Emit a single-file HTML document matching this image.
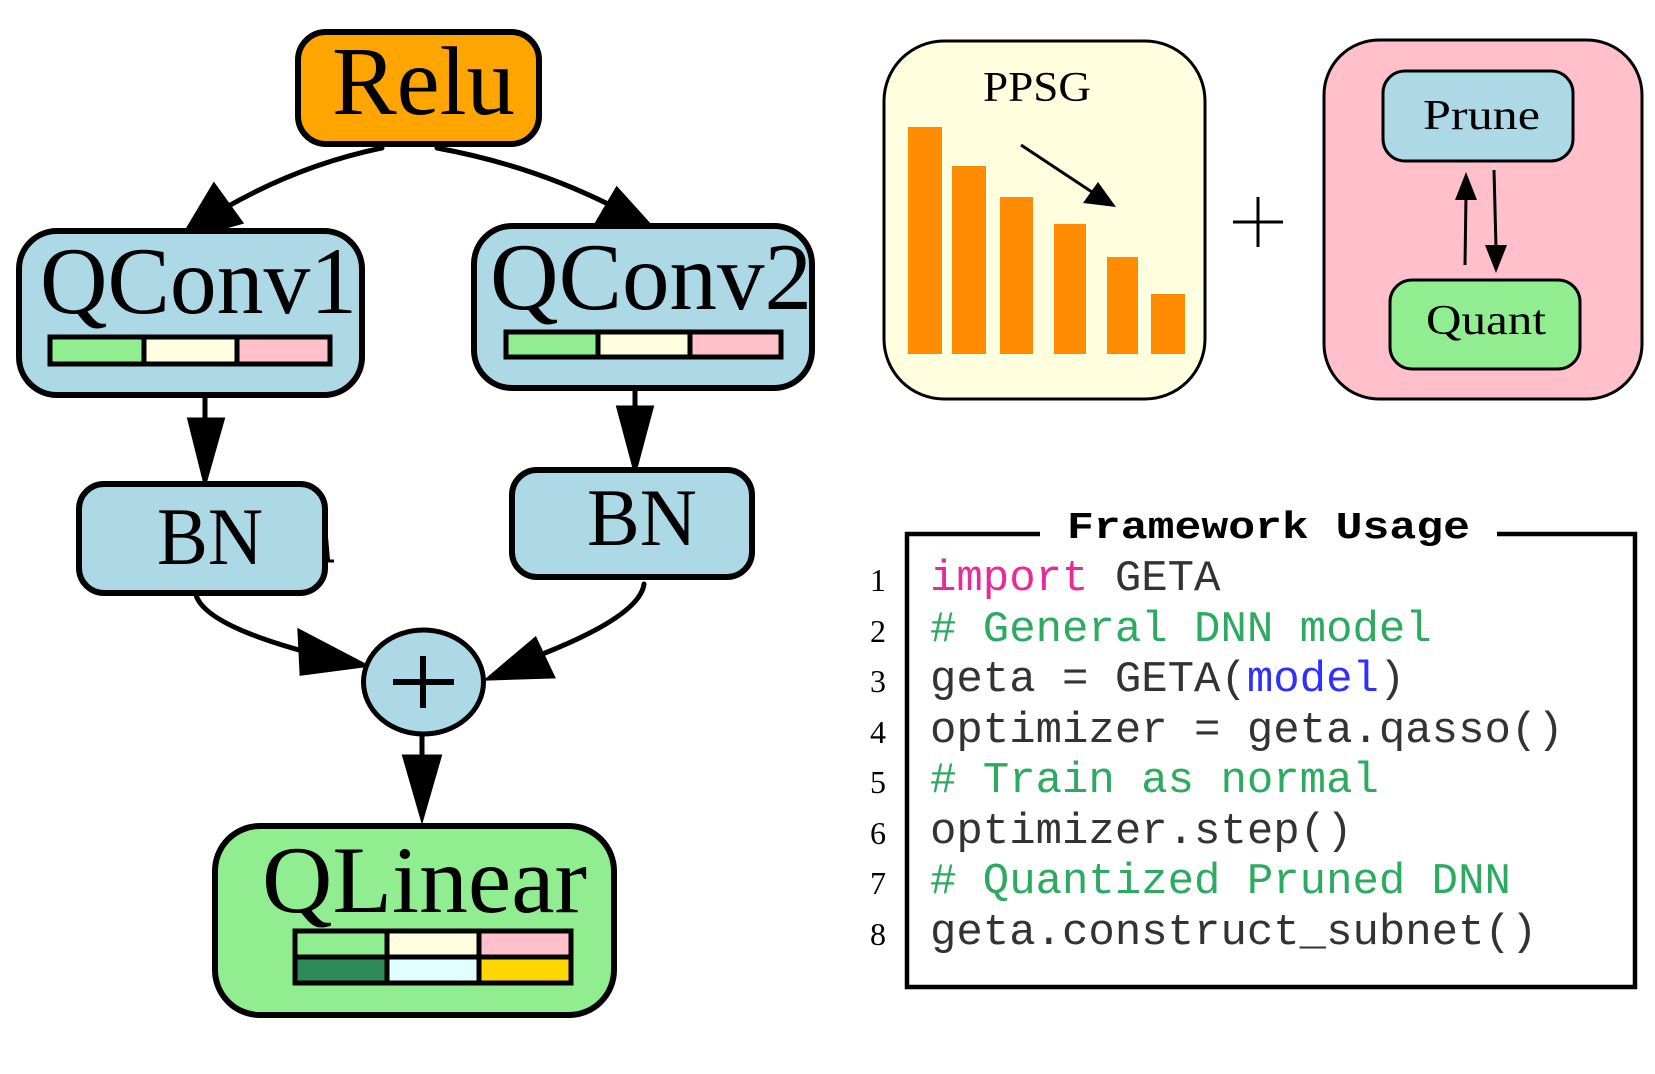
<!DOCTYPE html>
<html><head><meta charset="utf-8"><style>
html,body{margin:0;padding:0;background:#fff}
svg{display:block}
.s{font-family:"Liberation Serif",serif}
.m{font-family:"Liberation Mono",monospace}
</style></head><body>
<svg width="1655" height="1074" viewBox="0 0 1655 1074" xmlns="http://www.w3.org/2000/svg">
<g stroke="#000" stroke-width="5" fill="none" stroke-linecap="round">
<path d="M382,148 Q300,165 225,208"/>
<polygon points="183,238 214,186 240,222" fill="#000"/>
<path d="M437,148 Q530,165 610,205"/>
<polygon points="655,232 617,190 597,224" fill="#000"/>
<line x1="205" y1="397" x2="205" y2="425"/>
<polygon points="205,480 190,420 222,420" fill="#000"/>
<line x1="635" y1="390" x2="635" y2="412"/>
<polygon points="635,468 619,408 651,408" fill="#000"/>
<path d="M196,595 Q205,625 310,653"/>
<polygon points="363,665 300,632 302,673" fill="#000"/>
<path d="M644,584 Q640,615 545,653"/>
<polygon points="490,678 535,640 552,676" fill="#000"/>
<line x1="422" y1="722" x2="422" y2="760"/>
<polygon points="422,816 405,757 439,757" fill="#000"/>
</g>

<rect x="298" y="32" width="241" height="112" rx="28" fill="#FFA500" stroke="#000" stroke-width="6"/>
<text x="332" y="114" class="s" font-size="98" textLength="183" lengthAdjust="spacingAndGlyphs">Relu</text>

<rect x="19" y="231" width="343" height="164" rx="38" fill="#ADD8E6" stroke="#000" stroke-width="6"/>
<text x="40" y="313" class="s" font-size="95" textLength="317" lengthAdjust="spacingAndGlyphs">QConv1</text>
<g stroke="#000" stroke-width="5">
<rect x="50" y="337" width="94" height="27" fill="#90EE90"/>
<rect x="144" y="337" width="93" height="27" fill="#FFFFE0"/>
<rect x="237" y="337" width="93" height="27" fill="#FFC0CB"/>
</g>

<rect x="474" y="226" width="338" height="162" rx="38" fill="#ADD8E6" stroke="#000" stroke-width="6"/>
<text x="490" y="309" class="s" font-size="95" textLength="322" lengthAdjust="spacingAndGlyphs">QConv2</text>
<g stroke="#000" stroke-width="5">
<rect x="506" y="332" width="92" height="25" fill="#90EE90"/>
<rect x="598" y="332" width="92" height="25" fill="#FFFFE0"/>
<rect x="690" y="332" width="91" height="25" fill="#FFC0CB"/>
</g>

<line x1="325" y1="525" x2="328" y2="560" stroke="#000" stroke-width="4"/>
<line x1="325" y1="561" x2="334" y2="561" stroke="#000" stroke-width="3"/>
<rect x="79" y="484" width="246" height="109" rx="25" fill="#ADD8E6" stroke="#000" stroke-width="6"/>
<text x="157" y="564" class="s" font-size="82" textLength="106" lengthAdjust="spacingAndGlyphs">BN</text>

<rect x="512" y="470" width="240" height="107" rx="25" fill="#ADD8E6" stroke="#000" stroke-width="6"/>
<text x="587" y="545" class="s" font-size="82" textLength="110" lengthAdjust="spacingAndGlyphs">BN</text>

<ellipse cx="423.5" cy="682" rx="60" ry="52" fill="#ADD8E6" stroke="#000" stroke-width="5"/>
<g stroke="#000" stroke-width="6"><line x1="393" y1="682" x2="454" y2="682"/><line x1="423" y1="656" x2="423" y2="708"/></g>

<rect x="215" y="826" width="399" height="189" rx="45" fill="#90EE90" stroke="#000" stroke-width="6"/>
<text x="262" y="912" class="s" font-size="95" textLength="325" lengthAdjust="spacingAndGlyphs">QLinear</text>
<g stroke="#000" stroke-width="5">
<rect x="295" y="931" width="92" height="26" fill="#90EE90"/>
<rect x="387" y="931" width="92" height="26" fill="#FFFFE0"/>
<rect x="479" y="931" width="92" height="26" fill="#FFC0CB"/>
<rect x="295" y="957" width="92" height="26" fill="#2E8B57"/>
<rect x="387" y="957" width="92" height="26" fill="#E0FFFF"/>
<rect x="479" y="957" width="92" height="26" fill="#FFD700"/>
</g>

<rect x="884" y="41" width="321" height="358" rx="60" fill="#FFFFE0" stroke="#000" stroke-width="3"/>
<text x="983" y="101" class="s" font-size="42" textLength="108" lengthAdjust="spacingAndGlyphs">PPSG</text>
<g fill="#FF8C00">
<rect x="908" y="127" width="34" height="227"/>
<rect x="952" y="166" width="34" height="188"/>
<rect x="1000" y="197" width="33" height="157"/>
<rect x="1054" y="224" width="32" height="130"/>
<rect x="1107" y="257" width="31" height="97"/>
<rect x="1151" y="294" width="34" height="60"/>
</g>
<line x1="1021" y1="145" x2="1095" y2="194" stroke="#000" stroke-width="3"/>
<polygon points="1116,207 1083,203 1098,182" fill="#000"/>

<g stroke="#000" stroke-width="3"><line x1="1233" y1="222" x2="1283" y2="222"/><line x1="1258" y1="197" x2="1258" y2="247"/></g>

<rect x="1324" y="40" width="318" height="359" rx="55" fill="#FFC0CB" stroke="#000" stroke-width="3"/>
<rect x="1383" y="71" width="190" height="90" rx="22" fill="#ADD8E6" stroke="#000" stroke-width="3"/>
<text x="1423" y="129" class="s" font-size="42" textLength="117" lengthAdjust="spacingAndGlyphs">Prune</text>
<rect x="1390" y="280" width="190" height="89" rx="22" fill="#90EE90" stroke="#000" stroke-width="3"/>
<text x="1426" y="334" class="s" font-size="42" textLength="120" lengthAdjust="spacingAndGlyphs">Quant</text>
<g stroke="#000" stroke-width="3">
<line x1="1465" y1="265" x2="1466" y2="195"/>
<line x1="1494" y1="170" x2="1496" y2="248"/>
</g>
<polygon points="1466,172 1455,200 1477,200" fill="#000"/>
<polygon points="1496,273 1485,245 1507,245" fill="#000"/>

<path d="M1040,534 L907,534 L907,987 L1635,987 L1635,534 L1497,534" fill="none" stroke="#000" stroke-width="4.5"/>
<text x="1067" y="538" class="m" font-size="38" font-weight="bold" textLength="403" lengthAdjust="spacingAndGlyphs">Framework Usage</text>
<g class="s" font-size="32" fill="#000">
<text x="870" y="591">1</text><text x="870" y="642">2</text><text x="870" y="692">3</text><text x="870" y="743">4</text>
<text x="870" y="793">5</text><text x="870" y="844">6</text><text x="870" y="894">7</text><text x="870" y="945">8</text>
</g>
<g class="m" font-size="44" fill="#333">
<text x="930" y="590"><tspan fill="#E8299A">import</tspan> GETA</text>
<text x="930" y="641" fill="#2BAA60"># General DNN model</text>
<text x="930" y="691">geta = GETA(<tspan fill="#2F2FFF">model</tspan>)</text>
<text x="930" y="742">optimizer = geta.qasso()</text>
<text x="930" y="792" fill="#2BAA60"># Train as normal</text>
<text x="930" y="843">optimizer.step()</text>
<text x="930" y="893" fill="#2BAA60"># Quantized Pruned DNN</text>
<text x="930" y="944">geta.construct_subnet()</text>
</g>
</svg>
</body></html>
